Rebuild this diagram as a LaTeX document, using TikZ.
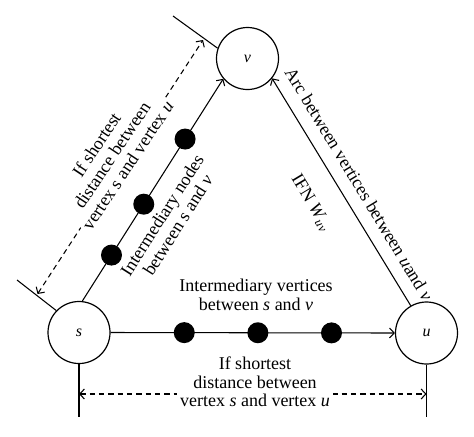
\documentclass[tikz,border=0pt]{standalone}
\usepackage{fontspec}
\setmainfont{Liberation Serif}
\usetikzlibrary{arrows.meta}
\begin{document}
\begin{tikzpicture}[x=0.75pt,y=-0.75pt,
  vertex/.style={circle,draw,line width=0.9pt,minimum size=46.5pt,inner sep=0pt,font=\fontsize{12}{12}\selectfont},
  dotnode/.style={circle,fill=black,minimum size=15.75pt,inner sep=0pt},
  edgeline/.style={line width=0.8pt},
  arr/.style={-{Straight Barb[length=3.5pt,width=7.5pt]}},
  dimline/.style={line width=0.8pt,dash pattern=on 4pt off 3pt,{Straight Barb[length=3.5pt,width=7.5pt]}-{Straight Barb[length=3.5pt,width=7.5pt]}},
  lbl/.style={font=\fontsize{13.5}{14}\selectfont,align=center,inner sep=0pt},
  blank/.style={fill=white,inner sep=2pt}
]
\useasboundingbox (0,0) rectangle (474,436);

% vertices
\node[vertex] (s) at (79,332.5) {\textit{s}};
\node[vertex] (u) at (426.5,333) {\textit{u}};
\node[vertex] (v) at (247.5,58.5) {\textit{v}};

% s -> u with intermediary vertices
\draw[edgeline,arr] (s.east) --
  node[dotnode,pos=0.259] (h1) {}
  node[dotnode,pos=0.518] (h2) {}
  node[dotnode,pos=0.777] (h3) {} (u.west);

% s -> v with intermediary nodes
\draw[edgeline,arr] (s.84.6) --
  node[dotnode,pos=0.207] (d1) {}
  node[dotnode,pos=0.436] (d2) {}
  node[dotnode,pos=0.729] (d3) {} (v.220);

% u -> v arc
\draw[edgeline,arr] (u.120) -- (v.-39);

% extension ticks (upper left)
\coordinate (ts) at (17,280);
\coordinate (tv) at (173,16);
\draw[edgeline] (s.136) -- (ts);
\draw[edgeline] (v.161) -- (tv);
\coordinate (da) at (37.5,294);
\coordinate (db) at (203,40);
\draw[dimline] (da) -- (db);

% extension lines (bottom)
\coordinate (sb) at (79,417);
\coordinate (ub) at (426.5,417);
\draw[edgeline] (s.south) -- (sb);
\draw[edgeline] (u.south) -- (ub);
\coordinate (dl) at (79,394);
\coordinate (dr) at (426.5,394);
\draw[dimline] (dl) -- (dr);

% labels
\node[lbl] (lh) at (256,295) {Intermediary vertices\\between \textit{s} and \textit{v}};
\node[lbl,blank] (lb) at (255,382) {If shortest\\distance between\\vertex \textit{s} and vertex \textit{u}};
\node[lbl,blank,rotate=56.3] (lul) at (112,155) {If shortest\\distance between\\vertex s and vertex \textit{u}};
\node[lbl,rotate=57.6] (lsv) at (170,220) {Intermediary nodes\\between s and \textit{v}};
\node[lbl,rotate=-58.8] (lifn) at (311,203) {IFN \textit{W}\textsubscript{\textit{uv}}};
\node[lbl,rotate=-58.8] (larc) at (359,184) {Arc between vertices between \textit{u}and \textit{v}};
\end{tikzpicture}
\end{document}
